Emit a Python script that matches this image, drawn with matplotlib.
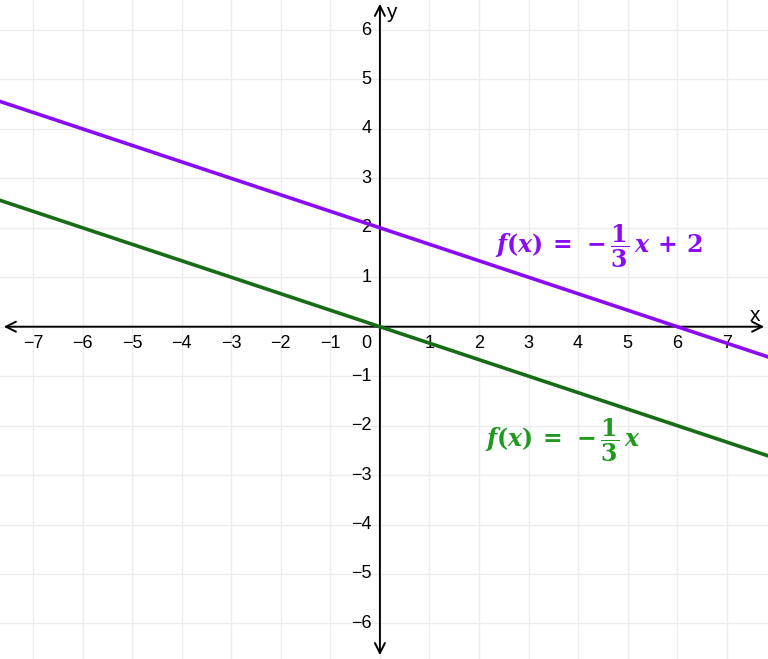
import numpy as np
import matplotlib
matplotlib.use("Agg")
import matplotlib.pyplot as plt

# two lines: f(x) = -1/3 x + 2 and f(x) = -1/3 x
slope = -1 / 3
intercepts = [2, 0]
line_colors = ["#8a0cf5", "#186c18"]
label_colors = ["#8a0cf5", "#1f9a1f"]
labels = [r"$f(x) \,=\, -\dfrac{1}{3}\,x \,+\, 2$", r"$f(x) \,=\, -\dfrac{1}{3}\,x$"]
label_pos = [(2.32, 1.62), (2.12, -2.29)]

x_ticks = [-7, -6, -5, -4, -3, -2, -1, 1, 2, 3, 4, 5, 6, 7]
y_ticks = [-6, -5, -4, -3, -2, -1, 1, 2, 3, 4, 5, 6]

xmin, xmax = -7.667, 7.832
ymin, ymax = -6.72, 6.607

plt.rcParams["font.family"] = ["Liberation Sans", "DejaVu Sans"]
plt.rcParams["mathtext.fontset"] = "custom"
plt.rcParams["mathtext.rm"] = "DejaVu Serif:bold"
plt.rcParams["mathtext.it"] = "DejaVu Serif:italic:bold"
plt.rcParams["mathtext.bf"] = "DejaVu Serif:bold"

fig = plt.figure(figsize=(7.68, 6.59), dpi=100)
ax = fig.add_axes([0, 0, 1, 1])
ax.set_xlim(xmin, xmax)
ax.set_ylim(ymin, ymax)
ax.axis("off")

# grid
for gx in range(-8, 9):
    ax.axvline(gx, color="#ececec", lw=1, zorder=0)
for gy in range(-7, 8):
    ax.axhline(gy, color="#ececec", lw=1, zorder=0)

# axes with arrows
arrow = dict(arrowstyle="<->", color="black", lw=1.4, mutation_scale=18)
ax.annotate("", xy=(xmax - 0.02, 0), xytext=(xmin + 0.02, 0), arrowprops=arrow, zorder=2)
ax.annotate("", xy=(0, ymax - 0.02), xytext=(0, ymin + 0.02), arrowprops=arrow, zorder=2)
ax.text(xmax - 0.36, 0.04, "x", fontsize=15, ha="left", va="bottom")
ax.text(0.12, ymax - 0.06, "y", fontsize=15, ha="left", va="top")

for t in x_ticks:
    ax.text(t, -0.34, "\u2212" + str(-t) if t < 0 else str(t), fontsize=13,
            ha="center", va="center")
for t in y_ticks:
    ax.text(-0.17, t, "\u2212" + str(-t) if t < 0 else str(t), fontsize=13,
            ha="right", va="center")
ax.text(-0.17, -0.34, "0", fontsize=13, ha="right", va="center")

xs = np.array([xmin, xmax])
for b, c in zip(intercepts, line_colors):
    ax.plot(xs, slope * xs + b, color=c, lw=2.6, zorder=3)

for lab, (lx, ly), c in zip(labels, label_pos, label_colors):
    ax.text(lx, ly, lab, color=c, fontsize=17, ha="left", va="center", zorder=4)

fig.savefig("out.png", dpi=100)
